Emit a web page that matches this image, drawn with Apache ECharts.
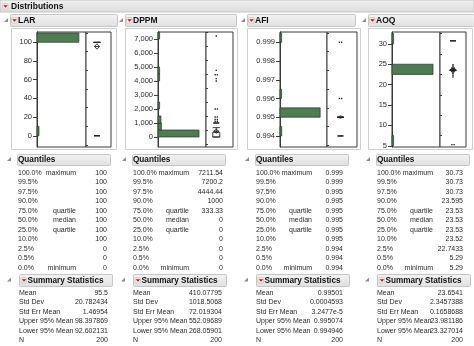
<!DOCTYPE html>
<html><head><meta charset="utf-8">
<script src="https://cdn.jsdelivr.net/npm/echarts@6/dist/echarts.min.js"></script>
<style>html,body{margin:0;padding:0;background:#fff}#c{width:474px;height:346px}</style>
</head><body><div id="c"></div>
<script>
// ---------------- DATA ----------------
const variables = ['LAR', 'DPPM', 'AFI', 'AOQ'];
// histogram bins: [low, high, count]
const histLAR  = [[0, 10, 9], [100, 110, 191]];
const histDPPM = [[0, 500, 166], [500, 1000, 14], [1000, 1500, 12], [2000, 2500, 2], [4000, 4500, 4], [4500, 5000, 1], [7000, 7500, 1]];
const histAFI  = [[0.994, 0.9945, 8], [0.995, 0.9955, 188], [0.996, 0.9965, 2], [0.999, 0.9995, 2]];
const histAOQ  = [[5, 7.5, 2], [22.5, 25, 192], [30, 32.5, 6]];
// axis tick labels (major) and minor ticks
const ticksLAR  = [0, 20, 40, 60, 80, 100];
const minorLAR  = [-10, 10, 30, 50, 70, 90, 110];
const ticksDPPM = [0, 1000, 2000, 3000, 4000, 5000, 6000, 7000];
const minorDPPM = [-500, 500, 1500, 2500, 3500, 4500, 5500, 6500, 7500];
const ticksAFI  = [0.994, 0.995, 0.996, 0.997, 0.998, 0.999];
const minorAFI  = [0.9935, 0.9945, 0.9955, 0.9965, 0.9975, 0.9985, 0.9995];
const ticksAOQ  = [5, 10, 15, 20, 25, 30];
const minorAOQ  = [7.5, 12.5, 17.5, 22.5, 27.5, 32.5];
// axis ranges [min, max]
const rangeLAR = [-12, 111], rangeDPPM = [-714, 7500], rangeAFI = [0.99341, 0.99955], rangeAOQ = [4.7, 32.9];
// box plot stats: [q1, median, q3, whiskerLow, whiskerHigh, lower95Mean, mean, upper95Mean]
const boxLAR  = [100, 100, 100, 100, 100, 92.602131, 95.5, 98.397869];
const boxDPPM = [0, 0, 333.33, 0, 666.67, 268.05901, 410.07795, 552.09689];
const boxAFI  = [0.995, 0.995, 0.995, 0.995, 0.995, 0.994946, 0.99501, 0.995074];
const boxAOQ  = [23.53, 23.53, 23.53, 23.53, 23.53, 23.327014, 23.6541, 23.981186];
// outlier points: [value, number of points]
const outLAR  = [[0, 9]];
const outDPPM = [[1000, 5], [1111.11, 2], [1250, 2], [1428.57, 2], [2000, 2], [4000, 1], [4166.67, 1], [4444.44, 2], [4761.9, 1], [7211.54, 1]];
const outAFI  = [[0.994, 8], [0.996, 2], [0.999, 2]];
const outAOQ  = [[5.29, 2], [30.73, 6], [24.9, 1], [24.6, 1], [24.3, 1], [24.1, 2], [23.8, 3], [23.4, 3], [23.2, 2], [22.9, 1], [22.7, 1], [22.3, 1], [21.9, 1]];
// quantiles table
const quantilePercents = ['100.0%', '99.5%', '97.5%', '90.0%', '75.0%', '50.0%', '25.0%', '10.0%', '2.5%', '0.5%', '0.0%'];
const quantileNames = ['maximum', '', '', '', 'quartile', 'median', 'quartile', '', '', '', 'minimum'];
const quantLAR  = ['100', '100', '100', '100', '100', '100', '100', '100', '0', '0', '0'];
const quantDPPM = ['7211.54', '7200.2', '4444.44', '1000', '333.33', '0', '0', '0', '0', '0', '0'];
const quantAFI  = ['0.999', '0.999', '0.995', '0.995', '0.995', '0.995', '0.995', '0.995', '0.994', '0.994', '0.994'];
const quantAOQ  = ['30.73', '30.73', '30.73', '23.595', '23.53', '23.53', '23.53', '23.52', '22.7433', '5.29', '5.29'];
// summary statistics table
const summaryNames = ['Mean', 'Std Dev', 'Std Err Mean', 'Upper 95% Mean', 'Lower 95% Mean', 'N'];
const sumLAR  = ['95.5', '20.782434', '1.46954', '98.397869', '92.602131', '200'];
const sumDPPM = ['410.07795', '1018.5068', '72.019304', '552.09689', '268.05901', '200'];
const sumAFI  = ['0.99501', '0.0004593', '3.2477e-5', '0.995074', '0.994946', '200'];
const sumAOQ  = ['23.6541', '2.3457388', '0.1658688', '23.981186', '23.327014', '200'];

// ---------------- LAYOUT ----------------
const FONT = '"Liberation Sans", Arial, sans-serif';
const panels = [
  {hist: histLAR,  ticks: ticksLAR,  minor: minorLAR,  range: rangeLAR,  box: boxLAR,  out: outLAR,  q: quantLAR,  s: sumLAR,
   fmt: v => String(v), hdrX: 10, hdrW: 107, axisX: 37, divX: 86, rightX: 111, boxC: 0.44, frame: [11, 116],
   tx: 18, lblR: 76, valR: 107, sx: 19, svalR: 108},
  {hist: histDPPM, ticks: ticksDPPM, minor: minorDPPM, range: rangeDPPM, box: boxDPPM, out: outDPPM, q: quantDPPM, s: sumDPPM,
   fmt: v => v.toLocaleString('en-US'), hdrX: 125, hdrW: 111, axisX: 158, divX: 206, rightX: 233, boxC: 0.38, frame: [125, 237],
   tx: 133, lblR: 189, valR: 223, sx: 133, svalR: 222},
  {hist: histAFI,  ticks: ticksAFI,  minor: minorAFI,  range: rangeAFI,  box: boxAFI,  out: outAFI,  q: quantAFI,  s: sumAFI,
   fmt: v => v.toFixed(3), hdrX: 247, hdrW: 108, axisX: 280, divX: 327, rightX: 357, boxC: 0.45, frame: [247, 360],
   tx: 256, lblR: 312, valR: 343, sx: 256, svalR: 343},
  {hist: histAOQ,  ticks: ticksAOQ,  minor: minorAOQ,  range: rangeAOQ,  box: boxAOQ,  out: outAOQ,  q: quantAOQ,  s: sumAOQ,
   fmt: v => String(v), hdrX: 368, hdrW: 106, axisX: 392, divX: 440, rightX: 466, boxC: 0.5, frame: [368, 472],
   tx: 377, lblR: 433, valR: 463, sx: 377, svalR: 463}
];
const PLOT_TOP = 32, PLOT_H = 115;

const chart = echarts.init(document.getElementById('c'), null, {renderer: 'canvas'});
const grid = [], xAxis = [], yAxis = [], series = [], graphic = [];

function headerBox(x, y, w, h) {
  return {type: 'rect', shape: {x: x + 0.5, y: y + 0.5, width: w, height: h, r: 1},
    style: {fill: new echarts.graphic.LinearGradient(0, 0, 0, 1, [{offset: 0, color: '#f3f3f3'}, {offset: 1, color: '#e0e0e0'}]),
      stroke: '#c6c6c6', lineWidth: 1}};
}
function disclosure(x, y) {
  return {type: 'polygon', shape: {points: [[x + 4, y], [x + 4, y + 4], [x, y + 4]]}, style: {fill: '#8c8c8c'}};
}
function redIcon(x, y) {
  return [{type: 'rect', shape: {x: x + 0.5, y: y + 0.5, width: 5.5, height: 5.5, r: 1}, style: {fill: '#f7eeee', stroke: '#d9b3b3', lineWidth: 0.6}},
    {type: 'polygon', shape: {points: [[x + 1.3, y + 2.2], [x + 5.7, y + 2.2], [x + 3.5, y + 4.8]]}, style: {fill: '#cc1111'}}];
}
function text(x, y, t, opts) {
  return {type: 'text', x: x, y: y, style: Object.assign({text: t, fill: '#2a2a2a', font: '7px ' + FONT, textVerticalAlign: 'middle', textAlign: 'left'}, opts || {})};
}

// top "Distributions" header
graphic.push({type: 'rect', shape: {x: 0, y: 0, width: 474, height: 12},
  style: {fill: new echarts.graphic.LinearGradient(0, 0, 0, 1, [{offset: 0, color: '#f2f2f2'}, {offset: 1, color: '#dcdcdc'}]), stroke: '#c4c4c4', lineWidth: 1}});
graphic.push(...redIcon(2, 3));
graphic.push(text(11, 6.5, 'Distributions', {font: 'bold 8.5px ' + FONT, fill: '#111'}));

panels.forEach((p, i) => {
  const name = variables[i];
  // panel header
  graphic.push(headerBox(p.hdrX, 14, p.hdrW, 12));
  graphic.push(disclosure(p.hdrX - 6, 18));
  graphic.push(...redIcon(p.hdrX + 1, 17));
  graphic.push(text(p.hdrX + 8, 20.5, name, {font: 'bold 8.5px ' + FONT, fill: '#111'}));
  // outer plot frame
  graphic.push({type: 'rect', shape: {x: p.frame[0] + 0.5, y: 28.5, width: p.frame[1] - p.frame[0], height: 121}, style: {fill: 'none', stroke: '#cfcfcf', lineWidth: 1}});

  // quantiles header
  const qx = p.tx - 1;
  graphic.push(headerBox(qx, 154, 93, 11));
  graphic.push(disclosure(qx - 10, 157));
  graphic.push(text(qx + 1, 160, 'Quantiles', {font: 'bold 8.2px ' + FONT, fill: '#111'}));
  quantilePercents.forEach((pc, k) => {
    const y = 172.7 + k * 9.5;
    graphic.push(text(p.tx, y, pc));
    if (quantileNames[k]) graphic.push(text(p.lblR, y, quantileNames[k], {textAlign: 'right'}));
    graphic.push(text(p.valR, y, p.q[k], {textAlign: 'right'}));
  });
  // summary header
  graphic.push(headerBox(p.sx, 274, 93, 12));
  graphic.push(disclosure(p.sx - 12, 277.5));
  graphic.push(...redIcon(p.sx + 1.5, 277));
  graphic.push(text(p.sx + 8.5, 280.5, 'Summary Statistics', {font: 'bold 8.2px ' + FONT, fill: '#111'}));
  summaryNames.forEach((sn, k) => {
    const y = 292.7 + k * 9.55;
    graphic.push(text(p.sx, y, sn));
    graphic.push(text(p.svalR, y, p.s[k], {textAlign: 'right'}));
  });

  // grids
  grid.push({left: p.axisX, top: PLOT_TOP, width: p.divX - p.axisX, height: PLOT_H, show: true, borderColor: '#3a3a3a', borderWidth: 1, backgroundColor: '#fff'});
  grid.push({left: p.divX, top: PLOT_TOP, width: p.rightX - p.divX, height: PLOT_H, show: true, borderColor: '#3a3a3a', borderWidth: 1, backgroundColor: '#fff'});
  const maxCount = Math.max(...p.hist.map(b => b[2]));
  xAxis.push({gridIndex: 2 * i, type: 'value', min: 0, max: maxCount * 1.17, show: false});
  xAxis.push({gridIndex: 2 * i + 1, type: 'value', min: 0, max: 1, show: false});
  yAxis.push({gridIndex: 2 * i, type: 'value', min: p.range[0], max: p.range[1],
    axisLine: {show: true, lineStyle: {color: '#3a3a3a', width: 1}},
    axisTick: {show: true, customValues: p.ticks, length: 4, lineStyle: {color: '#3a3a3a'}},
    axisLabel: {show: true, customValues: p.ticks, formatter: p.fmt, fontSize: 7.5, fontFamily: FONT, color: '#2a2a2a', margin: 5},
    splitLine: {show: false}});
  yAxis.push({gridIndex: 2 * i, type: 'value', min: p.range[0], max: p.range[1],
    axisLine: {show: false}, axisTick: {show: true, customValues: p.minor, length: 2, lineStyle: {color: '#3a3a3a'}},
    axisLabel: {show: false}, splitLine: {show: false}});
  yAxis.push({gridIndex: 2 * i + 1, type: 'value', min: p.range[0], max: p.range[1], show: false});

  // histogram
  series.push({type: 'custom', xAxisIndex: 2 * i, yAxisIndex: 3 * i, data: p.hist, encode: {x: 2, y: [0, 1]},
    renderItem: function (params, api) {
      const lo = api.value(0), hi = api.value(1), n = api.value(2);
      const a = api.coord([0, hi]), b = api.coord([n, lo]);
      const w = Math.max(b[0] - a[0], 1.6);
      return {type: 'rect', shape: {x: a[0], y: a[1], width: w, height: b[1] - a[1]},
        style: {fill: '#4f7c52', stroke: '#233a25', lineWidth: 0.7}};
    }});
  // box plot
  const c = p.boxC;
  series.push({type: 'custom', xAxisIndex: 2 * i + 1, yAxisIndex: 3 * i + 2, data: [p.box],
    encode: {x: [], y: [0, 1, 2, 3, 4, 5, 6, 7]},
    renderItem: function (params, api) {
      const v = k => api.coord([c, api.value(k)]);
      const q1 = v(0), md = v(1), q3 = v(2), wl = v(3), wh = v(4), lo = v(5), mn = v(6), hi = v(7);
      const cx = q1[0], hw = 3.5, dw = 2.6;
      const st = {stroke: '#222', lineWidth: 0.9, fill: 'none'};
      const ch = [];
      if (wh[1] < q3[1]) {
        ch.push({type: 'line', shape: {x1: cx, y1: q3[1], x2: cx, y2: wh[1]}, style: st});
        ch.push({type: 'line', shape: {x1: cx - hw, y1: wh[1], x2: cx + hw, y2: wh[1]}, style: st});
      }
      if (wl[1] > q1[1]) ch.push({type: 'line', shape: {x1: cx, y1: q1[1], x2: cx, y2: wl[1]}, style: st});
      ch.push({type: 'rect', shape: {x: cx - hw, y: q3[1], width: 2 * hw, height: Math.max(q1[1] - q3[1], 0.1)}, style: st});
      ch.push({type: 'line', shape: {x1: cx - hw, y1: md[1], x2: cx + hw, y2: md[1]}, style: st});
      const top = Math.min(hi[1], mn[1] - 0.9), bot = Math.max(lo[1], mn[1] + 0.9);
      ch.push({type: 'polygon', shape: {points: [[cx, top], [cx + dw, mn[1]], [cx, bot], [cx - dw, mn[1]]]}, style: st});
      ch.push({type: 'line', shape: {x1: cx - dw, y1: mn[1], x2: cx + dw, y2: mn[1]}, style: st});
      return {type: 'group', children: ch};
    }});
  // outliers
  series.push({type: 'custom', xAxisIndex: 2 * i + 1, yAxisIndex: 3 * i + 2, data: p.out,
    encode: {x: [], y: 0},
    renderItem: function (params, api) {
      const pt = api.coord([c, api.value(0)]);
      const n = api.value(1);
      if (n <= 2) {
        const ch = [];
        for (let j = 0; j < n; j++) {
          const dx = (j - (n - 1) / 2) * 2.2;
          ch.push({type: 'rect', shape: {x: pt[0] + dx - 0.7, y: pt[1] - 0.7, width: 1.4, height: 1.4}, style: {fill: '#222'}});
        }
        return {type: 'group', children: ch};
      }
      const w = Math.min(1.0 * n + 1.5, 6);
      return {type: 'rect', shape: {x: pt[0] - w / 2, y: pt[1] - 0.8, width: w, height: 1.6}, style: {fill: '#222'}};
    }});
});

chart.setOption({animation: false, backgroundColor: '#fff', grid, xAxis, yAxis, series, graphic});
</script></body></html>
